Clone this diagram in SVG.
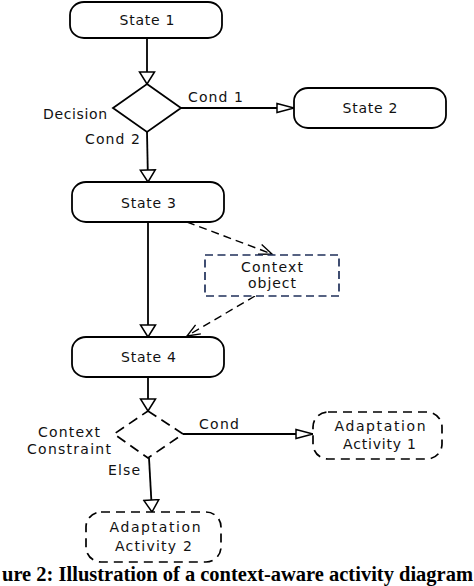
<svg xmlns="http://www.w3.org/2000/svg" width="474" height="586" viewBox="0 0 474 586">
<style>
.bg{fill:#ffffff}
.state{fill:#ffffff;stroke:#000000;stroke-width:1.8}
.ctx{fill:#ffffff;stroke:#1f2f5a;stroke-width:1.7;stroke-dasharray:8 4.5}
.adapt{fill:#ffffff;stroke:#000000;stroke-width:1.7;stroke-dasharray:9 6}
.dia{fill:#ffffff;stroke:#000000;stroke-width:1.8}
.diad{fill:#ffffff;stroke:#000000;stroke-width:1.7;stroke-dasharray:10 6}
.edge{fill:none;stroke:#000000;stroke-width:1.8}
.dep{fill:none;stroke:#000000;stroke-width:1.4;stroke-dasharray:8 5}
.head{fill:#ffffff;stroke:#000000;stroke-width:1.5;stroke-dasharray:none}
.open{fill:none;stroke:#000000;stroke-width:1.4;stroke-dasharray:none}
text{font-family:"DejaVu Sans","Liberation Sans",sans-serif;font-size:14px;fill:#111111}
.c{text-anchor:middle}
.e{text-anchor:end}
.cap{font-family:"Liberation Serif","Times New Roman",serif;font-size:20.5px;font-weight:bold;fill:#000000}
</style>
<defs>
<marker id="triV" markerUnits="userSpaceOnUse" markerWidth="16" markerHeight="18" refX="12" refY="8" orient="auto" viewBox="-1 0 16 16">
<path class="head" d="M0,0.5 L12,8 L0,15.5 Z"/>
</marker>
<marker id="triH" markerUnits="userSpaceOnUse" markerWidth="20" markerHeight="12" refX="17" refY="5" orient="auto" viewBox="-1 0 20 10">
<path class="head" d="M0,0.5 L17,5 L0,9.5 Z"/>
</marker>
<marker id="openA" markerUnits="userSpaceOnUse" markerWidth="18" markerHeight="14" refX="14" refY="6" orient="auto" viewBox="0 0 18 12">
<path class="open" d="M1,0.8 L14,6 L1,11.2"/>
</marker>
</defs>
<rect class="bg" x="0" y="0" width="474" height="586"/>

<g id="connectors">
<line class="edge" x1="147" y1="38" x2="147" y2="84" marker-end="url(#triV)"/>
<line class="edge" x1="181" y1="108" x2="294" y2="108" marker-end="url(#triH)"/>
<line class="edge" x1="147" y1="132" x2="148" y2="182" marker-end="url(#triV)"/>
<line class="edge" x1="148" y1="222" x2="148" y2="337" marker-end="url(#triV)"/>
<line class="edge" x1="148" y1="377" x2="148" y2="411" marker-end="url(#triV)"/>
<line class="edge" x1="183" y1="434" x2="313" y2="434" marker-end="url(#triH)"/>
<line class="edge" x1="149" y1="458" x2="152" y2="512" marker-end="url(#triV)"/>
<line class="dep" x1="187" y1="222" x2="272" y2="254" marker-end="url(#openA)"/>
<line class="dep" x1="255" y1="296" x2="187" y2="336" marker-end="url(#openA)"/>
<text x="107" y="119" class="e" textLength="64" lengthAdjust="spacing">Decision</text>
<text x="188" y="102" textLength="55" lengthAdjust="spacing">Cond 1</text>
<text x="85" y="144" textLength="55" lengthAdjust="spacing">Cond 2</text>
<text x="199" y="429" textLength="40" lengthAdjust="spacing">Cond</text>
<text x="108" y="475" textLength="32" lengthAdjust="spacing">Else</text>
</g>

<g id="state1">
<rect class="state" x="70" y="2" width="152" height="36" rx="14" ry="13"/>
<text x="147" y="25" class="c" textLength="55" lengthAdjust="spacing">State 1</text>
</g>

<g id="decision">
<polygon class="dia" points="147,84 181,108 147,132 113,108"/>
</g>

<g id="state2">
<rect class="state" x="294" y="88" width="152" height="40" rx="14" ry="13"/>
<text x="370" y="113" class="c" textLength="55" lengthAdjust="spacing">State 2</text>
</g>

<g id="state3">
<rect class="state" x="72" y="182" width="152" height="40" rx="14" ry="13"/>
<text x="148.5" y="208" class="c" textLength="55" lengthAdjust="spacing">State 3</text>
</g>

<g id="context-object">
<rect class="ctx" x="205" y="255" width="134" height="41"/>
<text x="272" y="272" class="c" textLength="62" lengthAdjust="spacing">Context</text>
<text x="272" y="288" class="c" textLength="48" lengthAdjust="spacing">object</text>
</g>

<g id="state4">
<rect class="state" x="72" y="337" width="152" height="40" rx="14" ry="13"/>
<text x="148.5" y="362" class="c" textLength="55" lengthAdjust="spacing">State 4</text>
</g>

<g id="context-constraint">
<polygon class="diad" points="148,411 183,434 148,458 114,434"/>
<text x="69" y="437" class="c" textLength="62" lengthAdjust="spacing">Context</text>
<text x="69" y="454" class="c" textLength="84" lengthAdjust="spacing">Constraint</text>
</g>

<g id="adaptation1">
<rect class="adapt" x="313" y="412" width="129" height="47" rx="15" ry="15"/>
<text x="380" y="431" class="c" textLength="91" lengthAdjust="spacing">Adaptation</text>
<text x="379.5" y="449" class="c" textLength="73" lengthAdjust="spacing">Activity 1</text>
</g>

<g id="adaptation2">
<rect class="adapt" x="86" y="512" width="135" height="50" rx="15" ry="15"/>
<text x="155" y="532" class="c" textLength="91" lengthAdjust="spacing">Adaptation</text>
<text x="153.5" y="550.5" class="c" textLength="77" lengthAdjust="spacing">Activity 2</text>
</g>

<g id="caption">
<text class="cap" x="2" y="581" textLength="471" lengthAdjust="spacingAndGlyphs">ure 2: Illustration of a context-aware activity diagram</text>
</g>
</svg>
